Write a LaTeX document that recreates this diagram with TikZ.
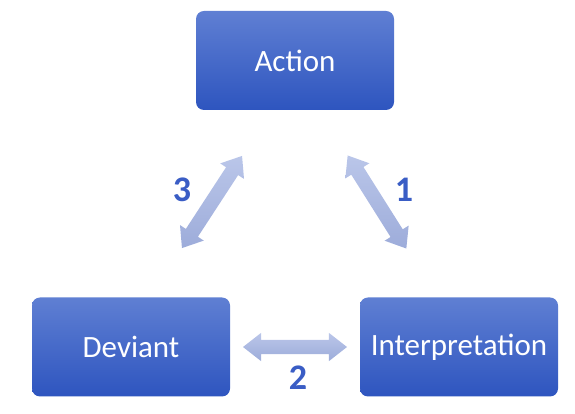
\documentclass[tikz,border=0pt]{standalone}
\usepackage{fontspec}
\setmainfont{Carlito}
\usepackage{tikz}
\usetikzlibrary{positioning,calc,shapes.arrows}
\definecolor{boxtop}{HTML}{5F7FD3}
\definecolor{boxbot}{HTML}{2E55BF}
\definecolor{arrtop}{HTML}{BAC6E9}
\definecolor{arrbot}{HTML}{9DACDA}
\definecolor{numc}{HTML}{3A5DC5}
\tikzset{
  stage/.style={rounded corners=8pt,top color=boxtop,bottom color=boxbot,draw=none,
    minimum width=198pt,minimum height=99pt,inner sep=0pt,text=white,
    font=\fontsize{31}{35}\selectfont},
  fatarrow/.style={double arrow,draw=none,top color=arrtop,bottom color=arrbot,
    inner xsep=0pt,inner ysep=7pt,text height=0pt,text depth=0pt,
    double arrow head extend=7pt,double arrow tip angle=76,minimum height=#1},
  num/.style={text=numc,font=\fontsize{36}{40}\selectfont\bfseries,inner sep=0pt},
}
\begin{document}
\begin{tikzpicture}[x=1pt,y=1pt]
  \useasboundingbox (0,0) rectangle (575,414);
  \node[stage] (action) at (295,353.5){Action};
  \node[stage] (deviant) at (131,67){Deviant};
  \node[stage] (interp) at (459,67){Interpretation};
  % arrow end points
  \coordinate (d3) at (182,166);
  \coordinate (a3) at (242,258);
  \coordinate (a1) at (348,258);
  \coordinate (i1) at (406,166);
  \coordinate (d2) at (243,67);
  \coordinate (i2) at (347,67);
  \path (d3) -- (a3) node[fatarrow=110pt,midway,sloped] (arr3){};
  \path (a1) -- (i1) node[fatarrow=110pt,midway,sloped] (arr1){};
  \path (d2) -- (i2) node[fatarrow=104pt,midway,sloped] (arr2){};
  \node[num] (n3) at (182,224){3};
  \node[num] (n1) at (404,224){1};
  \node[num] (n2) at (298,36){2};
\end{tikzpicture}
\end{document}
